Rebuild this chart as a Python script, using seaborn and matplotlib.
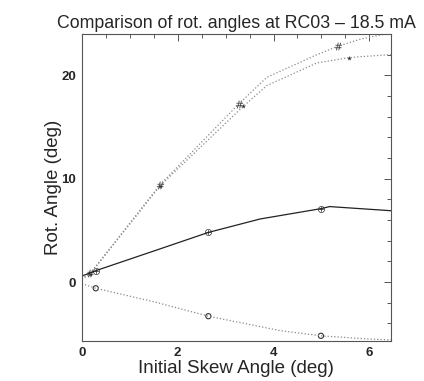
# plot.py - Comparacion de angulos de rotacion en RC03 (18.5 mA)

import numpy as np
import pandas as pd
import seaborn as sns
import matplotlib.pyplot as plt
from matplotlib.ticker import MultipleLocator

# curvas (vertices)
x_hash = [0.0, 0.18, 1.63, 3.27, 3.86, 4.91, 5.34, 5.82, 6.45]
y_hash = [0.3, 0.87, 9.4, 17.2, 19.8, 22.0, 22.8, 23.5, 24.1]
x_star = [0.0, 0.18, 1.63, 3.37, 3.86, 4.91, 5.57, 5.82, 6.45]
y_star = [0.3, 0.80, 9.3, 17.0, 19.0, 21.2, 21.7, 21.8, 22.0]
x_solid = [0.0, 0.29, 1.5, 2.64, 3.72, 4.99, 5.17, 6.45]
y_solid = [0.58, 1.1, 3.0, 4.8, 6.1, 7.1, 7.3, 6.9]
x_open = [0.0, 0.29, 1.5, 2.64, 4.14, 4.99, 5.96, 6.45]
y_open = [-0.15, -0.6, -1.9, -3.3, -4.7, -5.2, -5.5, -5.6]

# puntos medidos
mx_hash = [0.18, 1.63, 3.27, 5.34]
my_hash = [0.87, 9.4, 17.2, 22.8]
mx_star = [0.18, 1.63, 3.37, 5.57]
my_star = [0.80, 9.3, 17.0, 21.7]
mx_solid = [0.29, 2.64, 4.99]
my_solid = [1.1, 4.8, 7.1]
mx_open = [0.29, 2.64, 4.99]
my_open = [-0.6, -3.3, -5.2]

sns.set_style("white")
plt.rcParams["font.family"] = ["Liberation Sans", "DejaVu Sans"]

fig = plt.figure(figsize=(4.24, 3.81), dpi=100)
ax = fig.add_axes([0.193, 0.105, 0.729, 0.806])

gris = "#8a8a8a"
sns.lineplot(x=x_hash, y=y_hash, sort=False, estimator=None, ax=ax,
             color=gris, linestyle=":", linewidth=0.9)
sns.lineplot(x=x_star, y=y_star, sort=False, estimator=None, ax=ax,
             color=gris, linestyle=":", linewidth=0.9)
sns.lineplot(x=x_solid, y=y_solid, sort=False, estimator=None, ax=ax,
             color="#222222", linestyle="-", linewidth=0.9)
sns.lineplot(x=x_open, y=y_open, sort=False, estimator=None, ax=ax,
             color=gris, linestyle=":", linewidth=0.9)

sns.scatterplot(x=mx_hash, y=my_hash, ax=ax, marker=r"$\#$", s=30,
                color="#333333", linewidth=0)
sns.scatterplot(x=mx_star, y=my_star, ax=ax, marker="*", s=14,
                color="#333333", linewidth=0)
sns.scatterplot(x=mx_solid, y=my_solid, ax=ax, marker=r"$\oplus$", s=25,
                color="#444444", linewidth=0)
sns.scatterplot(x=mx_open, y=my_open, ax=ax, marker="o", s=14,
                facecolor="none", edgecolor="#333333", linewidth=0.8)

ax.set_xlim(0, 6.45)
ax.set_ylim(-5.7, 24.0)
ax.xaxis.set_major_locator(MultipleLocator(2))
ax.xaxis.set_minor_locator(MultipleLocator(0.5))
ax.yaxis.set_major_locator(MultipleLocator(10))
ax.yaxis.set_minor_locator(MultipleLocator(2))
ax.tick_params(which="both", direction="in", top=True, right=True,
               color="#555555", width=0.7)
ax.tick_params(which="major", length=5, labelsize=9.5, pad=4)
ax.tick_params(which="minor", length=3)
for lab in ax.get_xticklabels() + ax.get_yticklabels():
    lab.set_fontweight("bold")
for sp in ax.spines.values():
    sp.set_color("#555555")
    sp.set_linewidth(0.8)

ax.set_title("Comparison of rot. angles at RC03 \u2013 18.5 mA", fontsize=12.8, pad=4)
ax.set_xlabel("Initial Skew Angle (deg)", fontsize=13.5, labelpad=1)
ax.set_ylabel("Rot. Angle (deg)", fontsize=13.5, labelpad=0)

fig.savefig("out.png", dpi=100)
